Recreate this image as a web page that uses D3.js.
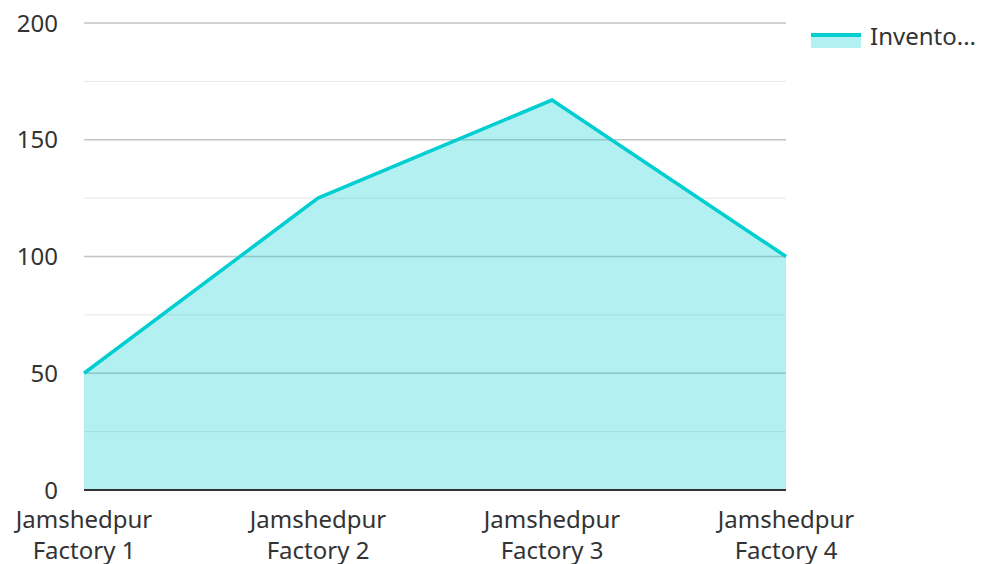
<!DOCTYPE html>
<html>
<head>
<meta charset="utf-8">
<script src="https://cdn.jsdelivr.net/npm/d3@7"></script>
<style>
  body { margin: 0; background: #fff; }
  svg { font-family: "Noto Sans", "Open Sans", sans-serif; }
</style>
</head>
<body>
<svg id="chart" width="983" height="564"></svg>
<script>
const categories = ["Jamshedpur Factory 1", "Jamshedpur Factory 2", "Jamshedpur Factory 3", "Jamshedpur Factory 4"];
const inventory = [50, 125, 167, 100];
const yTicks = [0, 50, 100, 150, 200];
const minorTicks = [25, 75, 125, 175];
const seriesName = "Invento...";

const svg = d3.select("#chart");
const plotLeft = 84, plotRight = 786, plotTop = 23, plotBottom = 490;
const color = "#00ced1";
const textColor = "#333";

const x = d3.scalePoint().domain(categories).range([plotLeft, plotRight]);
const y = d3.scaleLinear().domain([0, 200]).range([plotBottom, plotTop]);

// minor grid lines
svg.append("g").selectAll("line").data(minorTicks).enter().append("line")
  .attr("x1", plotLeft).attr("x2", plotRight)
  .attr("y1", d => y(d)).attr("y2", d => y(d))
  .attr("stroke", "#e6e6e6").attr("stroke-width", 1);

// major grid lines
svg.append("g").selectAll("line").data(yTicks.filter(d => d > 0)).enter().append("line")
  .attr("x1", plotLeft).attr("x2", plotRight)
  .attr("y1", d => y(d)).attr("y2", d => y(d))
  .attr("stroke", "#c4c4c4").attr("stroke-width", 1.5);

// y labels
svg.append("g").selectAll("text").data(yTicks).enter().append("text")
  .attr("x", 58).attr("y", d => y(d)).attr("dy", "0.36em")
  .attr("text-anchor", "end").attr("font-size", 24).attr("fill", textColor)
  .text(d => d);

const data = categories.map((c, i) => ({ c: c, v: inventory[i] }));

svg.append("path").datum(data)
  .attr("fill", color).attr("fill-opacity", 0.3)
  .attr("d", d3.area().x(d => x(d.c)).y0(y(0)).y1(d => y(d.v)));

svg.append("path").datum(data)
  .attr("fill", "none").attr("stroke", color).attr("stroke-width", 3.5)
  .attr("d", d3.line().x(d => x(d.c)).y(d => y(d.v)));

// x axis line
svg.append("line").attr("x1", plotLeft).attr("x2", plotRight)
  .attr("y1", plotBottom).attr("y2", plotBottom)
  .attr("stroke", "#333").attr("stroke-width", 2);

// x labels (two lines)
const xl = svg.append("g").selectAll("text").data(categories).enter().append("text")
  .attr("text-anchor", "middle").attr("font-size", 24).attr("fill", textColor);
xl.each(function(d) {
  const words = d.split(" ");
  const t = d3.select(this);
  t.append("tspan").attr("x", x(d)).attr("y", 528).text(words[0]);
  t.append("tspan").attr("x", x(d)).attr("y", 559).text(words.slice(1).join(" "));
});

// legend
const lg = svg.append("g");
lg.append("rect").attr("x", 811).attr("y", 34).attr("width", 50).attr("height", 14)
  .attr("fill", color).attr("fill-opacity", 0.3);
lg.append("line").attr("x1", 811).attr("x2", 861).attr("y1", 35).attr("y2", 35)
  .attr("stroke", color).attr("stroke-width", 4);
lg.append("text").attr("x", 870).attr("y", 36).attr("dy", "0.36em")
  .attr("font-size", 24).attr("fill", textColor).text(seriesName);
</script>
</body>
</html>
